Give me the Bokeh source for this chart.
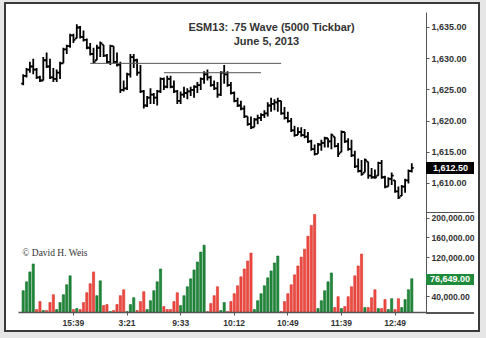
from bokeh.plotting import figure
from bokeh.layouts import column
from bokeh.models import Range1d, FixedTicker, NumeralTickFormatter, Label, Div
from bokeh.embed import file_html
from bokeh.resources import INLINE

# ---------------- data ----------------
high = [
    1627.50, 1628.50, 1629.50, 1630.00, 1628.50, 1627.25, 1630.25, 1631.00, 1630.00, 1628.50,
    1628.25, 1629.50, 1631.75, 1632.25, 1634.00, 1634.00, 1635.50, 1635.25, 1634.50, 1633.25,
    1632.50, 1631.75, 1632.25, 1632.75, 1632.25, 1630.75, 1632.25, 1632.00, 1631.00, 1629.50,
    1626.50, 1627.75, 1630.75, 1630.75, 1630.00, 1629.00, 1625.00, 1624.00, 1625.25, 1624.50,
    1625.00, 1627.00, 1627.00, 1627.25, 1627.25, 1626.50, 1625.00, 1624.75, 1625.50, 1625.25,
    1625.50, 1625.75, 1626.25, 1627.00, 1628.00, 1628.25, 1627.25, 1626.50, 1626.25, 1628.00,
    1629.00, 1628.00, 1626.25, 1624.75, 1623.75, 1623.25, 1622.50, 1620.75, 1620.75, 1620.50,
    1621.00, 1621.25, 1621.75, 1623.00, 1623.75, 1623.50, 1623.75, 1623.25, 1622.25, 1621.50,
    1620.50, 1619.25, 1619.00, 1619.00, 1618.75, 1618.25, 1617.00, 1616.25, 1616.50, 1617.00,
    1617.50, 1617.25, 1618.00, 1617.50, 1616.50, 1618.50, 1618.25, 1617.25, 1617.00, 1615.25,
    1614.00, 1613.75, 1614.00, 1613.50, 1612.50, 1612.25, 1613.50, 1613.75, 1611.25, 1611.00,
    1611.75, 1610.50, 1609.50, 1609.75, 1610.75, 1612.25, 1613.25]
low = [
    1625.75, 1627.00, 1627.75, 1627.50, 1626.75, 1626.25, 1626.50, 1628.50, 1626.75, 1626.25,
    1626.25, 1626.75, 1629.25, 1630.75, 1631.75, 1632.50, 1633.25, 1633.25, 1632.75, 1631.50,
    1630.50, 1629.25, 1629.75, 1630.25, 1630.25, 1629.25, 1629.00, 1629.25, 1628.75, 1624.50,
    1624.75, 1625.00, 1627.00, 1628.50, 1627.25, 1624.50, 1622.00, 1622.25, 1622.75, 1622.75,
    1622.50, 1624.50, 1625.00, 1625.25, 1625.25, 1624.50, 1622.75, 1622.75, 1623.75, 1623.50,
    1624.00, 1623.75, 1624.50, 1625.00, 1626.00, 1626.50, 1625.50, 1625.00, 1623.75, 1624.00,
    1626.00, 1625.50, 1624.25, 1623.00, 1622.25, 1621.75, 1620.50, 1619.25, 1618.75, 1619.00,
    1619.50, 1620.00, 1620.50, 1620.75, 1621.50, 1621.75, 1621.50, 1621.00, 1620.25, 1619.75,
    1618.25, 1617.50, 1617.75, 1617.50, 1617.25, 1616.50, 1615.25, 1614.50, 1614.75, 1615.25,
    1615.75, 1615.75, 1615.50, 1615.75, 1614.25, 1615.00, 1616.50, 1615.25, 1614.25, 1612.50,
    1611.75, 1611.25, 1611.75, 1610.75, 1610.75, 1610.75, 1611.25, 1610.75, 1609.25, 1609.50,
    1609.75, 1608.50, 1607.50, 1608.00, 1608.50, 1610.00, 1611.75]
open_ = [
    1626.00, 1627.25, 1628.25, 1628.75, 1628.25, 1627.00, 1626.50, 1629.75, 1628.75, 1627.00,
    1626.75, 1627.75, 1629.25, 1631.50, 1632.00, 1633.75, 1633.25, 1635.00, 1633.50, 1633.00,
    1631.75, 1630.75, 1629.75, 1631.75, 1632.25, 1630.50, 1629.50, 1632.00, 1629.50, 1629.00,
    1625.00, 1625.25, 1627.50, 1630.25, 1629.75, 1627.75, 1624.75, 1622.50, 1623.75, 1624.25,
    1623.75, 1624.75, 1626.75, 1625.50, 1626.75, 1625.50, 1624.75, 1623.25, 1624.25, 1624.50,
    1624.75, 1625.00, 1625.50, 1625.75, 1626.75, 1627.50, 1627.00, 1625.75, 1625.25, 1624.25,
    1627.75, 1627.50, 1625.75, 1624.50, 1623.25, 1622.50, 1622.00, 1620.75, 1619.50, 1619.00,
    1620.25, 1620.50, 1621.00, 1621.25, 1622.50, 1622.75, 1623.00, 1623.25, 1621.25, 1620.50,
    1620.00, 1618.50, 1617.75, 1618.25, 1617.75, 1617.50, 1616.75, 1615.50, 1614.75, 1616.25,
    1616.50, 1617.25, 1616.75, 1617.50, 1616.00, 1615.00, 1618.25, 1616.75, 1615.50, 1614.50,
    1612.75, 1612.00, 1611.75, 1613.50, 1611.25, 1611.00, 1611.25, 1613.25, 1611.00, 1609.50,
    1610.75, 1610.50, 1608.75, 1608.00, 1609.50, 1610.50, 1612.00]
close = [
    1627.25, 1628.25, 1628.75, 1628.25, 1627.00, 1626.50, 1629.75, 1628.75, 1627.00, 1626.75,
    1627.75, 1629.25, 1631.50, 1632.00, 1633.75, 1633.00, 1635.00, 1633.50, 1633.00, 1631.75,
    1630.75, 1629.50, 1631.75, 1632.50, 1630.50, 1629.50, 1632.00, 1629.50, 1629.00, 1625.00,
    1625.25, 1627.50, 1630.25, 1629.75, 1627.75, 1624.75, 1622.50, 1623.75, 1624.25, 1623.75,
    1624.75, 1626.75, 1625.50, 1626.75, 1625.50, 1624.75, 1623.25, 1624.25, 1624.50, 1624.75,
    1625.00, 1625.50, 1625.75, 1626.75, 1627.50, 1627.00, 1625.75, 1625.25, 1624.25, 1627.75,
    1627.50, 1625.75, 1624.50, 1623.25, 1622.50, 1622.00, 1620.75, 1619.50, 1619.00, 1620.25,
    1620.50, 1621.00, 1621.25, 1622.50, 1622.75, 1623.00, 1623.25, 1621.25, 1620.50, 1620.00,
    1618.50, 1617.75, 1618.25, 1617.75, 1617.50, 1616.75, 1615.50, 1614.75, 1616.25, 1616.50,
    1617.25, 1616.75, 1617.75, 1616.00, 1614.75, 1618.25, 1616.75, 1615.50, 1614.50, 1612.75,
    1612.00, 1611.50, 1613.75, 1611.25, 1611.00, 1611.00, 1613.25, 1611.00, 1609.50, 1610.75,
    1611.25, 1608.75, 1607.75, 1609.50, 1610.50, 1612.00, 1612.50]
volume = [
    52200, 70400, 90700, 106900, 13700, 29900, 11700, 11700, 27900, 44100,
    13700, 27900, 44100, 64300, 82600, 13700, 15700, 13700, 27900, 48100,
    66400, 90700, 42100, 72400, 21800, 23800, 9700, 11700, 23800, 42100,
    54200, 9700, 23800, 38000, 11700, 29900, 50200, 13700, 31900, 52200,
    70400, 96700, 19800, 13700, 13700, 29900, 48100, 21800, 42100, 60300,
    76500, 94700, 110900, 131200, 145300, 9700, 25900, 42100, 60300, 11700,
    27900, 9700, 29900, 46100, 62300, 80500, 96700, 112900, 129100, 13700,
    31900, 46100, 62300, 78500, 92700, 108900, 123100, 9700, 29900, 46100,
    64300, 84600, 102800, 121000, 137200, 163600, 185800, 208100, 15700, 31900,
    52200, 70400, 88600, 17800, 40000, 15700, 19800, 40000, 60300, 82600,
    102800, 127100, 17800, 17800, 38000, 54200, 15700, 15700, 34000, 13700,
    36000, 13700, 36000, 17800, 34000, 54200, 76649]
# wave direction of each bar: g = up wave, r = down wave
wave = list("gggg rr g rrr ggggg r g rrrrr gg rr g rrrr ggg rrr ggggg rrrrr "
            "gggggggg rrrr gg rrrrrrrr gggggggg rrrrrrrrrrr ggggg rr g rrrrrr "
            "g rrr g rr gg rr gggg".replace(" ", ""))

time_tick_bars = [15, 31, 47, 63, 79, 95, 111]
time_tick_labels = ["15:39", "3:21", "9:33", "10:12", "10:49", "11:39", "12:49"]
price_ticks = [1610, 1615, 1620, 1625, 1630, 1635]
volume_ticks = [40000, 120000, 160000, 200000]

level_prices = [1629.25, 1627.75]
level_start_bar = [20, 42]
level_end_bar = [77, 71]

last_price_text = "1,612.50"
last_volume_text = "76,649.00"

# ---------------- drawing ----------------
n = len(high)
idx = list(range(n))
wave_colors = {"g": "#1f8a3a", "r": "#ef4a42"}
wave_lines = {"g": "#126e2a", "r": "#d8342c"}
fills = [wave_colors[w] for w in wave]
lines = [wave_lines[w] for w in wave]

FONT = "Liberation Sans"
AXIS_COLOR = "#555555"
LABEL_COLOR = "#333333"

x_rng = Range1d(-1.40, 120.39)

p = figure(width=472, height=208, x_range=x_rng, y_range=Range1d(1605.35, 1637.40),
           y_axis_location="right", x_axis_location=None,
           output_backend="svg", toolbar_location=None,
           min_border_left=12, min_border_right=52, min_border_top=8, min_border_bottom=0,
           background_fill_color="white", border_fill_color="white",
           outline_line_color=None)
p.grid.visible = False
p.yaxis.ticker = FixedTicker(ticks=price_ticks)
p.yaxis.formatter = NumeralTickFormatter(format="0,0.00")

v = figure(width=472, height=118, x_range=x_rng, y_range=Range1d(7625, 212150),
           y_axis_location="right",
           output_backend="svg", toolbar_location=None,
           min_border_left=12, min_border_right=52, min_border_top=0, min_border_bottom=17,
           background_fill_color="white", border_fill_color="white",
           outline_line_color=None)
v.grid.visible = False
v.yaxis.ticker = FixedTicker(ticks=volume_ticks)
v.yaxis.formatter = NumeralTickFormatter(format="0,0.00")
v.xaxis.ticker = FixedTicker(ticks=time_tick_bars)
v.xaxis.major_label_overrides = dict(zip(time_tick_bars, time_tick_labels))

for ax in (p.yaxis[0], v.yaxis[0], v.xaxis[0]):
    ax.axis_line_color = AXIS_COLOR
    ax.axis_line_width = 1
    ax.major_tick_line_color = AXIS_COLOR
    ax.major_tick_in = 0
    ax.major_tick_out = 3
    ax.minor_tick_line_color = None
    ax.major_label_text_font = FONT
    ax.major_label_text_font_style = "bold"
    ax.major_label_text_color = LABEL_COLOR
    ax.major_label_standoff = 2
p.yaxis.major_label_text_font_size = "9px"
v.yaxis.major_label_text_font_size = "8.6px"
v.xaxis.major_label_text_font_size = "8.5px"
v.xaxis.axis_line_width = 1.5

# OHLC bars
p.segment(x0=idx, y0=low, x1=idx, y1=high, line_color="black", line_width=1.8)
p.segment(x0=[i - 0.6 for i in idx], y0=open_, x1=idx, y1=open_, line_color="black", line_width=1.8)
p.segment(x0=idx, y0=close, x1=[i + 0.6 for i in idx], y1=close, line_color="black", line_width=1.8)

# support / resistance lines
p.segment(x0=level_start_bar, y0=level_prices, x1=level_end_bar, y1=level_prices,
          line_color="#555555", line_width=1)

# volume bars
v.vbar(x=idx, top=volume, bottom=0, width=0.66, fill_color=fills, line_color=lines, line_width=0.6)

# texts
p.add_layout(Label(x=74.6, y=1635.15, text="ESM13:  .75 Wave (5000 Tickbar)",
                   text_align="center", text_baseline="middle", text_font=FONT,
                   text_font_size="11px", text_font_style="bold", text_color="#333333"))
p.add_layout(Label(x=72.6, y=1632.9, text="June 5, 2013",
                   text_align="center", text_baseline="middle", text_font=FONT,
                   text_font_size="11px", text_font_style="bold", text_color="#333333"))
v.add_layout(Label(x=-0.3, y=129000, text="\u00a9 David H. Weis",
                   text_align="left", text_baseline="middle", text_font="Liberation Serif",
                   text_font_size="9.5px", text_color="#333333"))

# last-value tags and panel rules in the right-hand axis column (HTML overlays)
tag_css = {"position": "absolute", "color": "white", "font-family": FONT,
           "font-size": "9px", "font-weight": "bold", "box-sizing": "border-box",
           "white-space": "nowrap", "overflow": "hidden", "z-index": "5"}
price_tag = Div(text=last_price_text, width=48, height=12, margin=0,
                styles=dict(tag_css, **{"left": "420px", "top": "158px",
                                        "background-color": "black",
                                        "line-height": "12px", "padding-left": "7px"}))
volume_tag = Div(text=last_volume_text, width=48, height=11, margin=0,
                 styles=dict(tag_css, **{"left": "420px", "top": "270px",
                                         "background-color": "#1f8a3a",
                                         "line-height": "11px", "padding-left": "4px"}))
rule_css = {"position": "absolute", "background-color": AXIS_COLOR, "z-index": "4"}
sep_rule = Div(text="", width=48, height=1, margin=0,
               styles=dict(rule_css, **{"left": "420px", "top": "208px"}))
base_rule = Div(text="", width=48, height=2, margin=0,
                styles=dict(rule_css, **{"left": "420px", "top": "308px"}))

inner = column(p, v, price_tag, volume_tag, sep_rule, base_rule, margin=2, spacing=0,
               styles={"position": "relative", "background-color": "white"})
frame = column(inner, margin=(2, 0, 0, 4), styles={"background-color": "#3a3a3a"})
page = column(frame, styles={"background-color": "#e6e6e6"}, width=486, height=338)

open("out.html", "w").write(file_html(page, INLINE))
